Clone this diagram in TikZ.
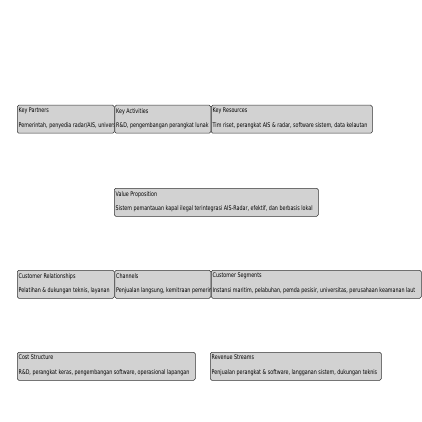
\documentclass[tikz,border=0pt]{standalone}
\usepackage{fontspec}
\setmainfont{DejaVu Sans}[FakeStretch=0.75]
\usetikzlibrary{positioning}

\begin{document}
\begin{tikzpicture}[
        x=1pt, y=-1pt,
        node distance=0pt and 0pt,
        cell/.style={draw=gray!40!black, rounded corners=1.5pt, fill=gray!35, minimum height=28pt, inner sep=0pt, anchor=north west, line width=.5pt},
        head/.style={anchor=north west, inner sep=1pt, xshift=.5pt, yshift=-2pt, font=\fontsize{6.4}{7}\selectfont},
        body/.style={anchor=south west, inner sep=1pt, xshift=.5pt, yshift=3.5pt, font=\fontsize{6.4}{7}\selectfont}
    ]
    \useasboundingbox (0,0) rectangle (422,422);

    % Row 1
    \node[cell, minimum width=97pt] (kp) at (17,105) {};
    \node[head] at (kp.north west) {Key Partners};
    \begin{scope}
        \clip (kp.north west) rectangle (kp.south east);
        \node[body] at (kp.south west) {Pemerintah, penyedia radar/AIS, universitas};
    \end{scope}
    \node[cell, minimum width=96pt, right=of kp] (ka) {};
    \node[head] at (ka.north west) {Key Activities};
    \begin{scope}
        \clip (ka.north west) rectangle (ka.south east);
        \node[body] at (ka.south west) {R\&D, pengembangan perangkat lunak};
    \end{scope}
    \node[cell, minimum width=161pt, right=of ka] (kr) {};
    \node[head] at (kr.north west) {Key Resources};
    \node[body] at (kr.south west) {Tim riset, perangkat AIS \& radar, software sistem, data kelautan};

    % Row 2
    \node[cell, minimum width=204pt] (vp) at (114,188) {};
    \node[head] at (vp.north west) {Value Proposition};
    \node[body] at (vp.south west) {Sistem pemantauan kapal ilegal terintegrasi AIS-Radar, efektif, dan berbasis lokal};

    % Row 3
    \node[cell, minimum width=97pt] (cr) at (17,270) {};
    \node[head] at (cr.north west) {Customer Relationships};
    \begin{scope}
        \clip (cr.north west) rectangle (cr.south east);
        \node[body] at (cr.south west) {Pelatihan \& dukungan teknis, layanan};
    \end{scope}
    \node[cell, minimum width=96pt, right=of cr] (ch) {};
    \node[head] at (ch.north west) {Channels};
    \begin{scope}
        \clip (ch.north west) rectangle (ch.south east);
        \node[body] at (ch.south west) {Penjualan langsung, kemitraan pemerintah};
    \end{scope}
    \node[cell, minimum width=210pt, right=of ch] (cs) {};
    \node[head] at (cs.north west) {Customer Segments};
    \node[body] at (cs.south west) {Instansi maritim, pelabuhan, pemda pesisir, universitas, perusahaan keamanan laut};

    % Row 4
    \node[cell, minimum width=178pt] (cost) at (17,352) {};
    \node[head] at (cost.north west) {Cost Structure};
    \node[body] at (cost.south west) {R\&D, perangkat keras, pengembangan software, operasional lapangan};
    \node[cell, minimum width=171pt] (rev) at (210,352) {};
    \node[head] at (rev.north west) {Revenue Streams};
    \node[body] at (rev.south west) {Penjualan perangkat \& software, langganan sistem, dukungan teknis};

\end{tikzpicture}
\end{document}
